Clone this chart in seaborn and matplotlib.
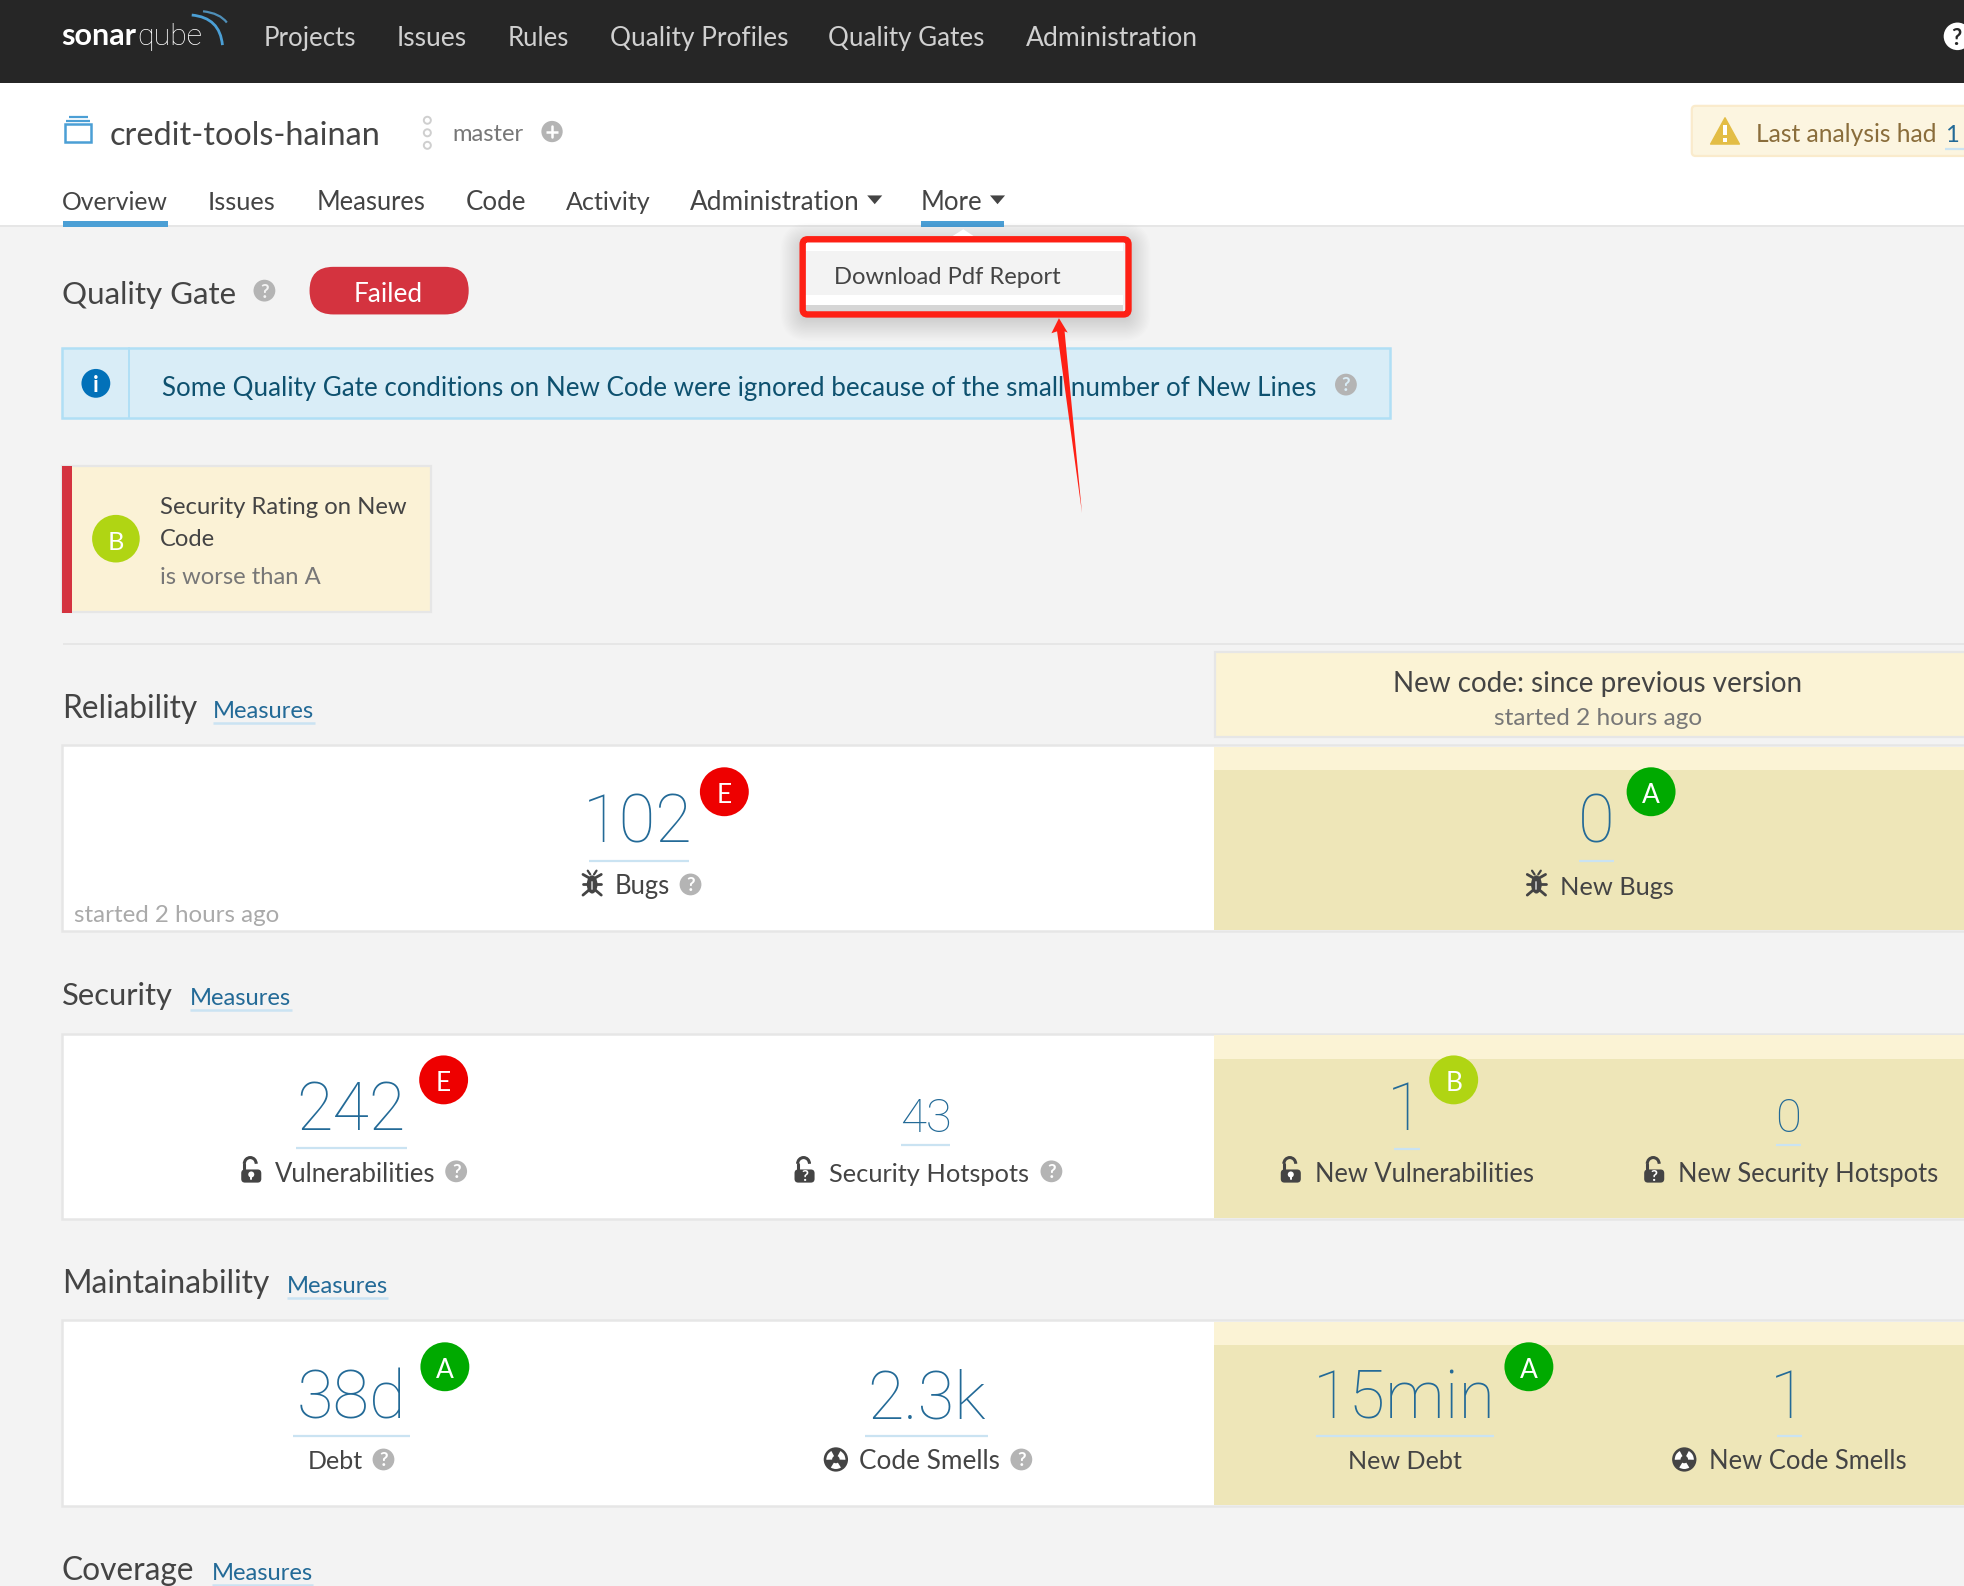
import matplotlib
matplotlib.use("Agg")
import matplotlib.pyplot as plt
from matplotlib.patches import Rectangle, Circle, Ellipse, FancyBboxPatch, Polygon, Wedge, Arc, PathPatch
from matplotlib.path import Path
import pandas as pd
import seaborn as sns

# ---------- content ----------
top_nav = ["Projects", "Issues", "Rules", "Quality Profiles", "Quality Gates", "Administration"]
project_tabs = ["Overview", "Issues", "Measures", "Code", "Activity", "Administration", "More"]
section_titles = ["Reliability", "Security", "Maintainability", "Coverage"]
metric_values = ["102", "0", "242", "43", "1", "0", "38d", "2.3k", "15min", "1"]
metric_labels = ["Bugs", "New Bugs", "Vulnerabilities", "Security Hotspots", "New Vulnerabilities",
                 "New Security Hotspots", "Debt", "Code Smells", "New Debt", "New Code Smells"]
badge_letters = ["E", "A", "E", "B", "A", "A"]
badge_metrics = ["Bugs", "New Bugs", "Vulnerabilities", "New Vulnerabilities", "Debt", "New Debt"]
rating_colors = {"A": "#00aa00", "B": "#b0d513", "E": "#ee0000"}

W, H = 1965, 1586
BG = "#f3f3f3"; EDGE = "#e6e6e6"; INK = "#444444"; GREY = "#777777"; LINK = "#236a97"
UL = "#cae3f2"; PALE = "#fbf3d5"; KHAKI = "#eee6b8"; BLUE = "#4b9fd5"; HELP = "#b4b4b4"
RED = "#d4333f"; FRAME = "#fe2015"

sns.set_theme(style="white")
plt.rcParams["font.family"] = ["Lato", "DejaVu Sans"]
fig = plt.figure(figsize=(W / 100, H / 100), dpi=100, facecolor=BG)
ax = fig.add_axes([0, 0, 1, 1])
ax.set_xlim(0, 1568); ax.set_ylim(1266, 0); ax.axis("off")
rend = fig.canvas.get_renderer()
SX = W / 1568


def T(x, y, s, w=None, size=17, color=INK, ha="left", weight="normal", z=5, **kw):
    if ha == "left":
        x -= 0.3
    t = ax.text(x, y, s, fontsize=size, color=color, ha=ha, va="baseline", weight=weight, zorder=z, **kw)
    if w is not None:
        t.set_fontsize(size * w * SX / t.get_window_extent(rend).width)
    return t


def R(x0, y0, x1, y1, c, z=1, **kw):
    ax.add_patch(Rectangle((x0, y0), x1 - x0, y1 - y0, fc=c, ec="none", zorder=z, **kw))


def L(x0, x1, y, c=UL, lw=1.6, z=3):
    ax.plot([x0, x1], [y, y], color=c, lw=lw, zorder=z, solid_capstyle="butt")


def help_icon(x, y, r=8.7, bg=BG):
    ax.add_patch(Circle((x, y), r, fc=HELP, ec="none", zorder=4))
    T(x, y + 5.5, "?", size=13.5, color=bg, ha="center", weight="bold")


def bug(x, y):
    ax.add_patch(Ellipse((x, y + 1), 8.5, 14.5, fc=INK, ec="none", zorder=4))
    for d in (-1, 1):
        ax.plot([x + d * 2, x + d * 7.3], [y - 4, y - 7], color=INK, lw=2, zorder=4)
        ax.plot([x + d * 2, x + d * 7.3], [y + 1, y + 1], color=INK, lw=2, zorder=4)
        ax.plot([x + d * 2, x + d * 7.3], [y + 5, y + 9.5], color=INK, lw=2, zorder=4)
        ax.plot([x + d * 1.5, x + d * 3.5], [y - 7, y - 10], color=INK, lw=1.6, zorder=4)
    ax.plot([x, x], [y - 1, y + 5], color="white", lw=1.4, zorder=5, alpha=.6)


def lock(x, y, mark=False):
    ax.add_patch(FancyBboxPatch((x - 8, y - 1.5), 16, 10.5, boxstyle="round,pad=0,rounding_size=3",
                                fc=INK, ec="none", zorder=4))
    ax.add_patch(Arc((x - 0.8, y - 6), 9.5, 10, theta1=180, theta2=360, ec=INK, lw=2.2, zorder=4))
    ax.plot([x - 5.55, x - 5.55], [y - 6, y - 1.5], color=INK, lw=2.2, zorder=4)
    if mark:
        T(x, y + 8, "?", size=11, color="white", ha="center", weight="bold")
    else:
        ax.add_patch(Circle((x, y + 2.5), 2.4, fc="white", ec="none", zorder=5))
        ax.plot([x, x], [y + 2.5, y + 6], color="white", lw=1.4, zorder=5)


def radiation(x, y):
    ax.add_patch(Circle((x, y), 9.7, fc=INK, ec="none", zorder=4))
    for c in (90, 210, 330):
        ax.add_patch(Wedge((x, y), 7.6, c - 32, c + 32, width=4.6, fc="white", ec="none", zorder=5))


# ---------- page furniture ----------
R(0, 0, 1568, 66, "#262626")
R(0, 66, 1568, 180, "white")
R(0, 180, 1568, 181.5, EDGE)

T(49.5, 36, "sonar", w=60, color="white", weight="bold")
T(110, 36, "qube", w=52, color="white", family="Roboto", weight="light")
ax.add_patch(PathPatch(Path([(153, 12), (175.5, 14), (177.5, 36)], [Path.MOVETO, Path.CURVE3, Path.CURVE3]),
                       fc="none", ec=BLUE, lw=2, zorder=4))
ax.add_patch(PathPatch(Path([(162, 9), (175.5, 10.5), (181, 18)], [Path.MOVETO, Path.CURVE3, Path.CURVE3]),
                       fc="none", ec="#4f8fb8", lw=1.6, zorder=4))

for s, x, w in zip(top_nav, (211, 317, 405, 487, 661, 819), (74, 56, 49, 142, 125, 137)):
    T(x, 37, s, w=w, color="#d0d0d0")
ax.add_patch(Circle((1562, 29), 11, fc="white", ec="none", zorder=4))
T(1561, 36, "?", size=16, color="#262626", ha="center", weight="bold")

# project heading
ax.add_patch(Rectangle((51.5, 99), 21.5, 14.5, fc="none", ec=BLUE, lw=1.8, zorder=4))
L(53, 72, 96.5, BLUE, 1.6, 4); L(55, 70, 93.5, BLUE, 1.6, 4)
T(88, 115.5, "credit-tools-hainan", w=216, color=INK)
for cy in (96, 106, 116):
    ax.add_patch(Circle((341, cy), 2.8, fc="white", ec="#cfcfcf", lw=1.4, zorder=4))
T(361, 112.5, "master", w=57, color=GREY)
ax.add_patch(Circle((440.5, 105), 8.5, fc=HELP, ec="none", zorder=4))
L(436, 445, 105, "white", 1.8, 5); ax.plot([440.5, 440.5], [100.5, 109.5], color="white", lw=1.8, zorder=5)

ax.add_patch(FancyBboxPatch((1350, 84.5), 240, 40, boxstyle="round,pad=0,rounding_size=3",
                            fc="#fcf5e0", ec="#faebcc", lw=1.6, zorder=2))
ax.add_patch(Polygon([(1376.5, 94), (1365, 115), (1388, 115)], fc="#e3bd45", ec="#e3bd45", lw=1, joinstyle="round", zorder=4))
R(1375.1, 100, 1377.9, 108, "white", z=5); R(1375.1, 110, 1377.9, 113, "white", z=5)
T(1401.5, 113, "Last analysis had", w=144, color="#8a6d3b")
T(1552, 113, "1", size=17, color=LINK)
L(1552, 1568, 119, UL, 1.6, 4)

# tabs
for s, x, w in zip(project_tabs, (50, 166, 253, 372, 452, 551, 735), (85, 54, 87, 48, 68, 135, 49)):
    T(x, 167.5, s, w=w, color=INK)
for x in (692, 790):
    ax.add_patch(Polygon([(x, 156), (x + 12, 156), (x + 6, 163)], fc=INK, ec="none", zorder=4))
R(50, 176.5, 134, 181.5, BLUE, z=3); R(735, 176.5, 801, 181.5, BLUE, z=3)

# quality gate row
T(50, 243, "Quality Gate", w=140, color=INK)
help_icon(211, 232)
ax.add_patch(FancyBboxPatch((247, 213), 127, 38, boxstyle="round,pad=0,rounding_size=19",
                            fc=RED, ec="none", zorder=3, mutation_aspect=1))
T(310, 241, "Failed", w=55, color="white", ha="center")

# info box
ax.add_patch(Rectangle((49.7, 278), 1059.8, 55.5, fc="#d9edf7", ec="#b0dff5", lw=1.8, zorder=2))
ax.plot([103, 103], [278, 333.5], color="#b0dff5", lw=1.4, zorder=3)
ax.add_patch(Circle((76.5, 306), 11.5, fc="#0271b9", ec="none", zorder=4))
T(76.5, 313, "i", size=16, color="white", ha="center", weight="bold")
T(129.8, 316, "Some Quality Gate conditions on New Code were ignored because of the small number of New Lines",
  w=918, color="#0e516f")
help_icon(1074, 307, bg="#d9edf7")

# failed condition card
ax.add_patch(Rectangle((49.7, 372), 294.3, 116.5, fc="#fbf2d6", ec=EDGE, lw=1.6, zorder=2))
R(49.7, 372, 57.5, 489, RED, z=3)
ax.add_patch(Circle((92.5, 430), 19, fc=rating_colors["B"], ec="none", zorder=4))
T(92.5, 439, "B", w=13, color="white", ha="center")
T(128, 410, "Security Rating on New", w=197, color=INK)
T(128, 436, "Code", w=44, color=INK)
T(128, 466, "is worse than A", w=128, color=GREY)
R(50, 513.5, 1568, 515, EDGE)

# leak header
ax.add_patch(Rectangle((969.6, 520.5), 640, 68, fc=PALE, ec=EDGE, lw=1.6, zorder=2))
T(1275, 552, "New code: since previous version", w=326, color=INK, ha="center")
T(1275, 579, "started 2 hours ago", w=165, color=GREY, ha="center")

# sections
titles_x = ((49.7, 108, 170), (49.7, 89, 152), (49.7, 166, 229), (49.7, 106, 169))
titles_y = (573, 802, 1032, 1261)
for s, (x, w, mx), y in zip(section_titles, titles_x, titles_y):
    T(x, y, s, w=w, color=INK)
    T(mx, y, "Measures", w=81, color=LINK)
    L(mx, mx + 81, y + 4, UL, 1.8)

# panels
for top in (595, 825, 1054):
    ax.add_patch(Rectangle((49.7, top), 1560, 148, fc="white", ec=EDGE, lw=1.8, zorder=1))
    R(969, top + 1, 1568, top + 20, PALE, z=2)
    R(969, top + 20, 1568, top + 147.5, KHAKI, z=2)
T(59, 736, "started 2 hours ago", w=164, color="#aaaaaa")

# metric numbers: centre, baseline, underline y, underline left, underline right, large?
num_geom = [(509, 672.5, 687, 470, 550, True), (1274, 672.5, 687, 1260, 1288, True),
            (280, 902, 916, 236, 325, True), (738.5, 904, 914, 719, 758, False),
            (1121, 902, 917, 1112, 1133, True), (1427, 904, 914, 1417, 1437, False),
            (280, 1132, 1146, 234, 327, True), (739.5, 1132, 1146, 690, 788, True),
            (1120.5, 1132, 1146, 1050, 1192, True), (1427, 1132, 1146, 1418, 1438, True)]
for s, (cx, b, uy, u0, u1, big) in zip(metric_values, num_geom):
    T(cx, b, s, color=LINK, ha="center", family="Roboto", weight="light", size=(48 if big else 34))
    L(u0, u1, uy, UL, 1.6)

# metric labels: left, width, baseline
lab_geom = [(491, 44, 714), (1245, 91, 714.5), (220, 128, 943.5), (662, 160, 943.5), (1050, 175, 943.5),
            (1339, 208, 943.5), (246, 44, 1172.5), (686, 112, 1172.5), (1076, 91, 1172.5), (1364, 158, 1172.5)]
for s, (x, w, b) in zip(metric_labels, lab_geom):
    T(x, b, s, w=w, color=INK)

bug(472.5, 705); bug(1226, 705)
lock(200.5, 935); lock(642, 935, True); lock(1030, 935); lock(1320, 935, True)
radiation(667, 1165); radiation(1344, 1165)
for x, y in ((551, 706), (364, 935), (839, 935), (306, 1165), (815, 1165)):
    help_icon(x, y, bg="white")

# rating badges
badge_x = [578, 1317.5, 354, 1160, 355, 1220]
badge_y = [632, 632, 862, 862, 1091, 1091]
badges = pd.DataFrame({"metric": badge_metrics, "rating": badge_letters, "x": badge_x, "y": badge_y})
sns.scatterplot(data=badges, x="x", y="y", hue="rating", palette=rating_colors, s=1240,
                linewidth=0, legend=False, ax=ax, zorder=4)
ax.set_xlim(0, 1568); ax.set_ylim(1266, 0); ax.axis("off")
for _, r in badges.iterrows():
    T(r["x"], r["y"] + 9, r["rating"], size=19, color="white", ha="center")

# dropdown with callout frame
for pad in range(1, 18):
    ax.add_patch(FancyBboxPatch((640 - pad, 191 - pad + 4), 261 + 2 * pad, 60 + 2 * pad,
                                boxstyle="round,pad=0,rounding_size=%d" % (5 + pad),
                                fc="black", ec="none", alpha=.006, zorder=6))
ax.add_patch(Polygon([(760, 188.5), (768.7, 183), (777, 188.5)], fc="white", ec="none", zorder=6))
R(641, 192, 899, 251, BG, z=7)
R(642, 192, 896, 243.5, "white", z=7)
R(642, 200, 896, 235.5, BG, z=7)
R(642, 243.5, 896, 250, "#d6d6d6", z=7)
ax.add_patch(FancyBboxPatch((640.5, 191), 260, 60, boxstyle="round,pad=0,rounding_size=4",
                            fc="none", ec=FRAME, lw=4.6, zorder=8))
T(666, 227, "Download Pdf Report", w=181, color=INK, z=9)
ax.add_patch(Polygon([(845, 254), (852, 265.5), (849.5, 264.5), (863.4, 409.5), (843.5, 264.5), (839, 266)],
                     fc=FRAME, ec="none", zorder=10))

fig.savefig("out.png", dpi=100, facecolor=BG)
